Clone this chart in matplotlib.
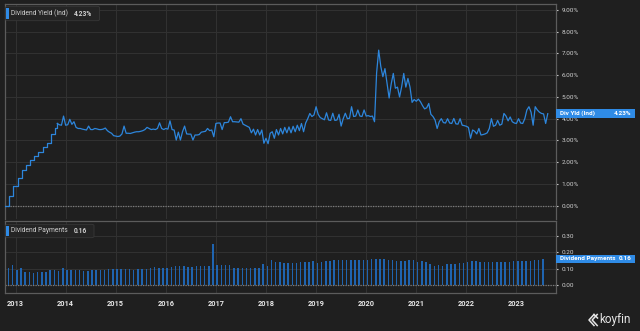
import numpy as np
import matplotlib
matplotlib.use("Agg")
import matplotlib.pyplot as plt
from matplotlib.transforms import blended_transform_factory
from matplotlib.patches import Rectangle, FancyBboxPatch
from matplotlib.lines import Line2D

# ---------------- data ----------------
yield_start = 2012.792          # first sample (fractional year)
yield_step = 1 / 24             # half-month samples
yield_pre2013 = [0.0, 0.0, 0.43, 0.43, 0.92]
yield_2013 = [0.92, 1.28, 1.28, 1.66, 1.66, 1.88, 1.88, 2.09, 2.09, 2.27, 2.27, 2.46,
              2.46, 2.69, 2.69, 2.89, 2.89, 3.31, 3.31, 3.58, 3.78, 3.72, 3.70, 4.12]
yield_2014 = [3.70, 3.72, 3.97, 3.74, 3.86, 3.60, 3.55, 3.55, 3.52, 3.50, 3.48, 3.66,
              3.50, 3.50, 3.55, 3.53, 3.50, 3.50, 3.52, 3.57, 3.45, 3.38, 3.33, 3.22]
yield_2015 = [3.20, 3.18, 3.20, 3.30, 3.66, 3.33, 3.33, 3.32, 3.35, 3.38, 3.40, 3.40,
              3.42, 3.45, 3.50, 3.60, 3.55, 3.50, 3.52, 3.50, 3.55, 3.81, 3.55, 3.50]
yield_2016 = [3.55, 3.52, 3.90, 3.50, 3.48, 3.02, 3.38, 3.02, 3.40, 3.66, 3.30, 3.29,
              3.29, 3.02, 3.25, 3.25, 3.27, 3.38, 3.40, 3.42, 3.55, 3.45, 3.48, 3.17]
yield_2017 = [3.78, 3.80, 3.80, 3.50, 3.82, 3.82, 3.84, 4.09, 3.86, 3.86, 3.85, 3.84,
              4.00, 3.75, 3.70, 3.65, 3.60, 3.35, 3.52, 3.25, 3.50, 3.25, 3.48, 2.87]
yield_2018 = [3.10, 2.85, 3.33, 3.40, 3.10, 3.50, 3.25, 3.55, 3.30, 3.60, 3.35, 3.62,
              3.35, 3.65, 3.40, 3.70, 3.45, 3.78, 3.40, 3.80, 4.00, 4.24, 4.10, 4.17]
yield_2019 = [4.55, 4.20, 4.05, 4.00, 3.95, 4.27, 3.94, 3.92, 4.25, 3.92, 3.94, 4.20,
              3.66, 4.00, 4.25, 4.00, 4.02, 4.55, 4.10, 4.12, 4.40, 4.12, 4.10, 4.40]
yield_2020 = [4.12, 4.14, 4.10, 4.12, 3.86, 6.10, 7.15, 6.40, 5.93, 6.30, 5.62, 4.95,
              5.60, 6.08, 5.40, 5.45, 5.00, 5.47, 6.08, 5.45, 5.85, 5.45, 4.75, 4.88]
yield_2021 = [4.80, 4.90, 4.78, 4.60, 4.45, 4.50, 4.70, 4.20, 4.10, 3.94, 3.55, 3.86,
              4.00, 3.82, 3.80, 4.00, 3.80, 3.78, 4.01, 3.76, 3.75, 4.00, 3.70, 3.68]
yield_2022 = [3.65, 3.60, 3.10, 3.48, 3.42, 3.30, 3.55, 3.25, 3.27, 3.30, 3.35, 3.55,
              4.00, 3.65, 3.70, 3.92, 3.70, 3.75, 4.24, 4.12, 3.90, 4.08, 3.86, 3.80]
yield_2023 = [3.78, 4.00, 3.80, 3.78, 4.00, 4.40, 4.55, 4.30, 3.70, 4.55, 4.40, 4.30,
              4.24, 4.22, 3.78, 4.23]

div_start = 2012.86             # first monthly payment (fractional year)
div_step = 1 / 12
div_2012_2017 = [0.107, 0.123, 0.093, 0.103, 0.079, 0.077, 0.075, 0.079, 0.081, 0.077,
                 0.089, 0.089, 0.087, 0.107, 0.089, 0.089, 0.093, 0.089, 0.085, 0.085,
                 0.089, 0.089, 0.093, 0.093, 0.095, 0.095, 0.097, 0.097, 0.097, 0.097,
                 0.093, 0.099, 0.099, 0.101, 0.103, 0.109, 0.107, 0.103, 0.107, 0.111,
                 0.117, 0.115, 0.115, 0.111, 0.113, 0.115, 0.115, 0.117, 0.119, 0.250,
                 0.123, 0.123, 0.123, 0.123, 0.103, 0.103, 0.103, 0.103, 0.103, 0.103,
                 0.103]
div_2018_2023 = [0.129, 0.117, 0.153, 0.143, 0.139, 0.137, 0.133, 0.137,
                 0.137, 0.139, 0.139, 0.139, 0.147, 0.133, 0.143, 0.145, 0.147, 0.151,
                 0.153, 0.151, 0.153, 0.153, 0.153, 0.153, 0.155, 0.155, 0.159, 0.157,
                 0.157, 0.157, 0.153, 0.151, 0.149, 0.149, 0.147, 0.153, 0.153, 0.143,
                 0.147, 0.139, 0.127, 0.115, 0.121, 0.117, 0.127, 0.127, 0.129, 0.133,
                 0.137, 0.141, 0.145, 0.147, 0.143, 0.143, 0.143, 0.143, 0.143, 0.143,
                 0.143, 0.143, 0.147, 0.147, 0.147, 0.149, 0.149, 0.151, 0.155, 0.161]

year_ticks = list(range(2013, 2024))
yield_ticks = [0, 1, 2, 3, 4, 5, 6, 7, 8, 9]
div_ticks = [0.0, 0.1, 0.2, 0.3]

last_yield_label = "4.23%"
last_div_label = "0.16"

# ---------------- build series ----------------
yield_vals = np.array(yield_pre2013 + yield_2013 + yield_2014 + yield_2015 + yield_2016 +
                      yield_2017 + yield_2018 + yield_2019 + yield_2020 + yield_2021 +
                      yield_2022 + yield_2023)
yield_x = yield_start + np.arange(len(yield_vals)) * yield_step
n_ramp = len(yield_pre2013) + len(yield_2013) - 4   # stair-step build-up phase
div_vals = np.array(div_2012_2017 + div_2018_2023)
div_x = div_start + np.arange(len(div_vals)) * div_step

# ---------------- style ----------------
BG = "#1f1f1f"
GRID = "#323232"
SPINE = "#5c5c5c"
TXT = "#d0d0d0"
LINE = "#2d86dc"
BAR = "#1f64b0"
HL = "#2f8be6"
FONT = ["Roboto", "DejaVu Sans"]
plt.rcParams["font.family"] = FONT

W, H = 640, 331
fig = plt.figure(figsize=(6.4, 3.31), dpi=100, facecolor=BG)


def fx(x):
    return x / W


def fy(y):
    return 1 - y / H


ax1 = fig.add_axes([fx(5), fy(219), fx(556) - fx(5), fy(4) - fy(219)], facecolor=BG)
ax2 = fig.add_axes([fx(5), fy(293), fx(556) - fx(5), fy(221) - fy(293)], facecolor=BG)

xlim = (2012.79, 2023.79)
for ax in (ax1, ax2):
    ax.set_xlim(*xlim)
    ax.set_xticks(year_ticks)
    ax.grid(True, color=GRID, linewidth=0.7)
    ax.set_axisbelow(True)
    ax.yaxis.tick_right()
    ax.tick_params(axis="y", direction="out", length=1.5, width=0.8, color="#cccccc",
                   labelsize=4.6, labelcolor=TXT, pad=2.5)
    for s in ("left", "top", "right", "bottom"):
        ax.spines[s].set_color(SPINE)
        ax.spines[s].set_linewidth(0.9)

ax1.spines["bottom"].set_visible(False)
ax1.tick_params(axis="x", length=0, labelbottom=False)
ax2.tick_params(axis="x", length=0, labelsize=5.3, labelcolor="#e8e8e8", pad=5)
for lab in ax2.get_xticklabels():
    lab.set_fontweight("bold")

# top panel: yield (stair-step build-up, then a regular line)
ax1.set_ylim(-0.61, 9.27)
ax1.set_yticks(yield_ticks)
ax1.set_yticklabels([f"{v:.2f}%" for v in yield_ticks])
ax1.axhline(0, color="#7a7a7a", linewidth=0.9, linestyle=(0, (1, 1)), zorder=1.5)
ax1.plot(yield_x[:n_ramp + 1], yield_vals[:n_ramp + 1], color=LINE, linewidth=0.9,
         drawstyle="steps-post", zorder=3)
ax1.plot(yield_x[n_ramp:], yield_vals[n_ramp:], color=LINE, linewidth=0.9, zorder=3)

# bottom panel: dividends
ax2.set_ylim(-0.048, 0.39)
ax2.set_yticks(div_ticks)
ax2.set_yticklabels([f"{v:.2f}" for v in div_ticks])
ax2.axhline(0, color="#7a7a7a", linewidth=0.9, linestyle=(0, (1, 1)), zorder=1.5)
ax2.bar(div_x, div_vals, width=0.03, color=BAR, linewidth=0, zorder=3)

# ---------------- right-hand value tags ----------------
def value_tag(ax, yval, height, name, value):
    tr = blended_transform_factory(ax.transAxes, ax.transData)
    wfrac = 79 / (556 - 5)
    ax.add_patch(Rectangle((1.0, yval - height / 2), wfrac, height, transform=tr,
                           facecolor=HL, edgecolor="none", clip_on=False, zorder=20))
    ax.text(1.008, yval, name, transform=tr, ha="left", va="center", fontsize=4.6,
            color="white", fontweight="bold", clip_on=False, zorder=21)
    ax.text(1.0 + wfrac - 0.007, yval, value, transform=tr, ha="right", va="center",
            fontsize=4.6, color="white", fontweight="bold", clip_on=False, zorder=21)


value_tag(ax1, float(yield_vals[-1]), 9.3 / 21.77, "Div Yld (Ind)", last_yield_label)
value_tag(ax2, float(div_vals[-1]), 7.8 / 165, "Dividend Payments", last_div_label)

# ---------------- legend boxes (top-left of each panel) ----------------
def legend_box(y0, y1, x1, name, value, value_x):
    fig.patches.append(FancyBboxPatch((fx(5.5), fy(y1)), fx(x1) - fx(5.5), fy(y0) - fy(y1),
                                      boxstyle="round,pad=0,rounding_size=0.004",
                                      transform=fig.transFigure, facecolor="#242424",
                                      edgecolor="#383838", linewidth=0.6, zorder=5))
    fig.patches.append(Rectangle((fx(6.3), fy(y1 - 1.3)), fx(2.2), fy(y0 + 1.3) - fy(y1 - 1.3),
                                 transform=fig.transFigure, facecolor=HL,
                                 edgecolor="none", zorder=6))
    yc = fy((y0 + y1) / 2)
    fig.text(fx(11), yc, name, ha="left", va="center", fontsize=4.8, color=TXT, zorder=7)
    fig.text(fx(value_x), yc, value, ha="left", va="center", fontsize=4.8, color=TXT,
             fontweight="bold", zorder=7)


legend_box(6.3, 20.7, 99.5, "Dividend Yield (Ind)", last_yield_label, 74)
legend_box(224.3, 237.7, 94, "Dividend Payments", last_div_label, 74)

# ---------------- koyfin logo ----------------
fig.text(fx(599), fy(320), "koyfin", ha="left", va="center", fontsize=8.5,
         color="#e6e6e6")
for dx in (0, 3.2):
    fig.lines.append(Line2D([fx(594 + dx), fx(589 + dx), fx(594 + dx)],
                            [fy(314.5), fy(320), fy(325.5)], transform=fig.transFigure,
                            color="#e6e6e6", linewidth=1.1))
fig.lines.append(Line2D([fx(594), fx(597.5)], [fy(314.5), fy(318)],
                        transform=fig.transFigure, color="#e6e6e6", linewidth=1.1))

fig.savefig("out.png", dpi=100, facecolor=BG)
